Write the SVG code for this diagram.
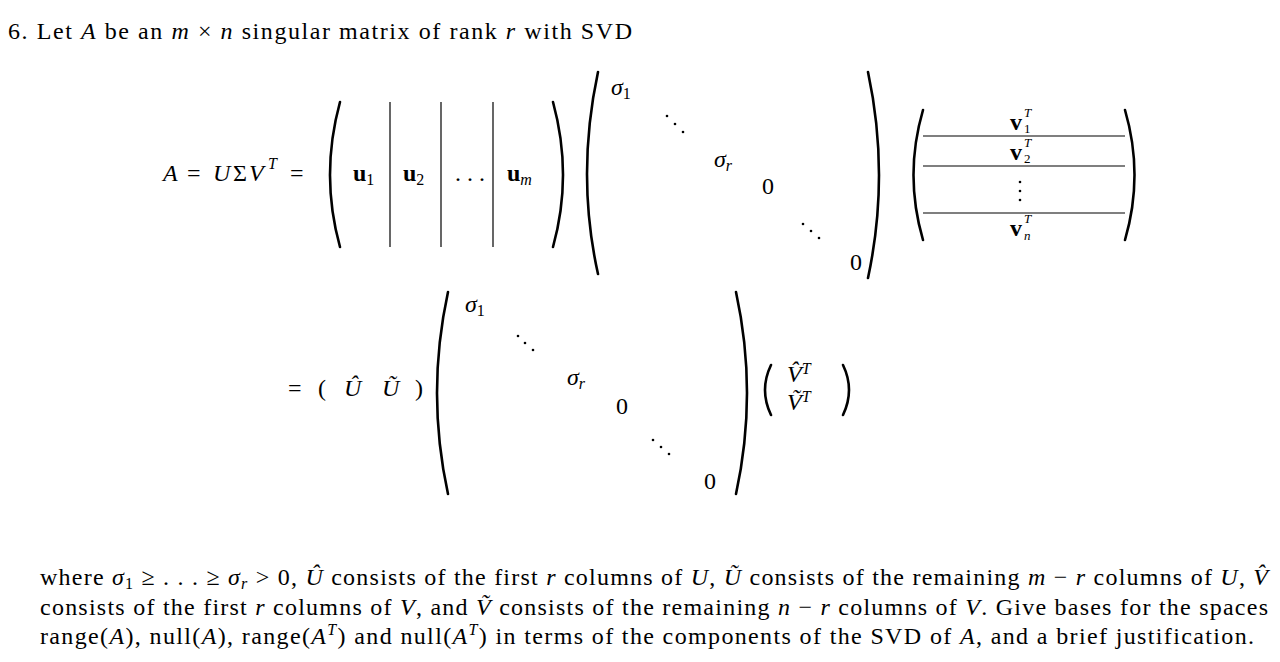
<svg xmlns="http://www.w3.org/2000/svg" width="1280" height="662" viewBox="0 0 1280 662">
<style>
text{font-family:"Liberation Serif","DejaVu Serif",serif;font-size:24px;fill:#000}
.i{font-style:italic}
.b{font-weight:bold}
.s{font-size:16px}
.t{font-size:13px}
.p{fill:none;stroke:#000;stroke-width:2.6;stroke-linecap:round}
.l{stroke:#000;stroke-width:1.2}
.d{fill:#000}
</style>
<rect width="1280" height="662" fill="#fff"/>
<text x="8" y="39" textLength="624" lengthAdjust="spacing">6. Let <tspan class="i">A</tspan> be an <tspan class="i">m</tspan> × <tspan class="i">n</tspan> singular matrix of rank <tspan class="i">r</tspan> with SVD</text>

<g id="row1">
<text x="163" y="181" class="i">A</text>
<text x="187" y="181">=</text>
<text x="213" y="181" class="i">U</text>
<text x="233" y="181">Σ</text>
<text x="249" y="181" class="i">V</text>
<text x="268" y="169" class="i s">T</text>
<text x="290" y="181">=</text>
<path class="p" d="M340,102 Q320,175 340,247"/>
<path class="p" d="M553,102 Q573,175 553,247"/>
<line class="l" x1="390" y1="102" x2="390" y2="247"/>
<line class="l" x1="441" y1="102" x2="441" y2="247"/>
<line class="l" x1="493" y1="102" x2="493" y2="247"/>
<text x="353" y="181" class="b">u<tspan class="s" dy="4" font-weight="normal">1</tspan></text>
<text x="403" y="181" class="b">u<tspan class="s" dy="4" font-weight="normal">2</tspan></text>
<text x="455" y="181">. . .</text>
<text x="507" y="181" class="b">u<tspan class="i s" dy="4" font-weight="normal">m</tspan></text>

<path class="p" d="M598,72 Q576,175 598,274"/>
<path class="p" d="M868,72 Q890,175 868,278"/>
<text x="611" y="95" class="i">σ<tspan class="s" dy="4" font-style="normal">1</tspan></text>
<circle class="d" cx="667" cy="116" r="1.3"/><circle class="d" cx="675" cy="124" r="1.3"/><circle class="d" cx="683" cy="132" r="1.3"/>
<text x="714" y="167" class="i">σ<tspan class="s" dy="4">r</tspan></text>
<text x="762" y="194">0</text>
<circle class="d" cx="803" cy="224" r="1.3"/><circle class="d" cx="811" cy="231" r="1.3"/><circle class="d" cx="819" cy="238" r="1.3"/>
<text x="850" y="270">0</text>

<path class="p" d="M923,110 Q904,175 923,240"/>
<path class="p" d="M1125,110 Q1144,175 1125,240"/>
<line class="l" x1="923" y1="136" x2="1125" y2="136"/>
<line class="l" x1="923" y1="166" x2="1125" y2="166"/>
<line class="l" x1="923" y1="213" x2="1125" y2="213"/>
<text x="1010" y="130" class="b">v</text><text x="1024" y="117" class="i t">T</text><text x="1024" y="133" class="t">1</text>
<text x="1010" y="160" class="b">v</text><text x="1024" y="147" class="i t">T</text><text x="1024" y="163" class="t">2</text>
<circle class="d" cx="1020" cy="182" r="1.3"/><circle class="d" cx="1020" cy="191" r="1.3"/><circle class="d" cx="1020" cy="200" r="1.3"/>
<text x="1010" y="236" class="b">v</text><text x="1024" y="223" class="i t">T</text><text x="1024" y="240" class="i t">n</text>
</g>

<g id="row2">
<text x="288" y="396">=</text>
<text x="318" y="396">(</text>
<text x="344" y="396" class="i">Û</text>
<text x="382" y="396" class="i">Ũ</text>
<text x="415" y="396">)</text>
<path class="p" d="M448,292 Q426,393 448,494"/>
<path class="p" d="M736,292 Q758,393 736,494"/>
<text x="465" y="312" class="i">σ<tspan class="s" dy="4" font-style="normal">1</tspan></text>
<circle class="d" cx="518" cy="336" r="1.3"/><circle class="d" cx="525" cy="343" r="1.3"/><circle class="d" cx="533" cy="350" r="1.3"/>
<text x="567" y="385" class="i">σ<tspan class="s" dy="4">r</tspan></text>
<text x="616" y="414">0</text>
<circle class="d" cx="653" cy="440" r="1.3"/><circle class="d" cx="661" cy="447" r="1.3"/><circle class="d" cx="669" cy="454" r="1.3"/>
<text x="704" y="489">0</text>
<path class="p" d="M771,365 Q759,390 771,415" stroke-width="1.6"/>
<path class="p" d="M843,365 Q855,390 843,415" stroke-width="1.6"/>
<text x="787" y="382" class="i">V̂<tspan class="s" dy="-8">T</tspan></text>
<text x="787" y="410" class="i">Ṽ<tspan class="s" dy="-8">T</tspan></text>
</g>

<text x="40" y="585" textLength="1228" lengthAdjust="spacing">where <tspan class="i">σ</tspan><tspan class="s" dy="4">1</tspan><tspan dy="-4"> ≥ . . . ≥ </tspan><tspan class="i">σ<tspan class="s" dy="4">r</tspan></tspan><tspan dy="-4"> &gt; 0, </tspan><tspan class="i">Û</tspan> consists of the first <tspan class="i">r</tspan> columns of <tspan class="i">U</tspan>, <tspan class="i">Ũ</tspan> consists of the remaining <tspan class="i">m</tspan> − <tspan class="i">r</tspan> columns of <tspan class="i">U</tspan>, <tspan class="i">V̂</tspan></text>
<text x="40" y="615" textLength="1228" lengthAdjust="spacing">consists of the first <tspan class="i">r</tspan> columns of <tspan class="i">V</tspan>, and <tspan class="i">Ṽ</tspan> consists of the remaining <tspan class="i">n</tspan> − <tspan class="i">r</tspan> columns of <tspan class="i">V</tspan>. Give bases for the spaces</text>
<text x="40" y="644" textLength="1214" lengthAdjust="spacing">range(<tspan class="i">A</tspan>), null(<tspan class="i">A</tspan>), range(<tspan class="i">A</tspan><tspan class="i s" dy="-9">T</tspan><tspan dy="9">) and null(</tspan><tspan class="i">A</tspan><tspan class="i s" dy="-9">T</tspan><tspan dy="9">) in terms of the components of the SVD of </tspan><tspan class="i">A</tspan>, and a brief justification.</text>
</svg>
